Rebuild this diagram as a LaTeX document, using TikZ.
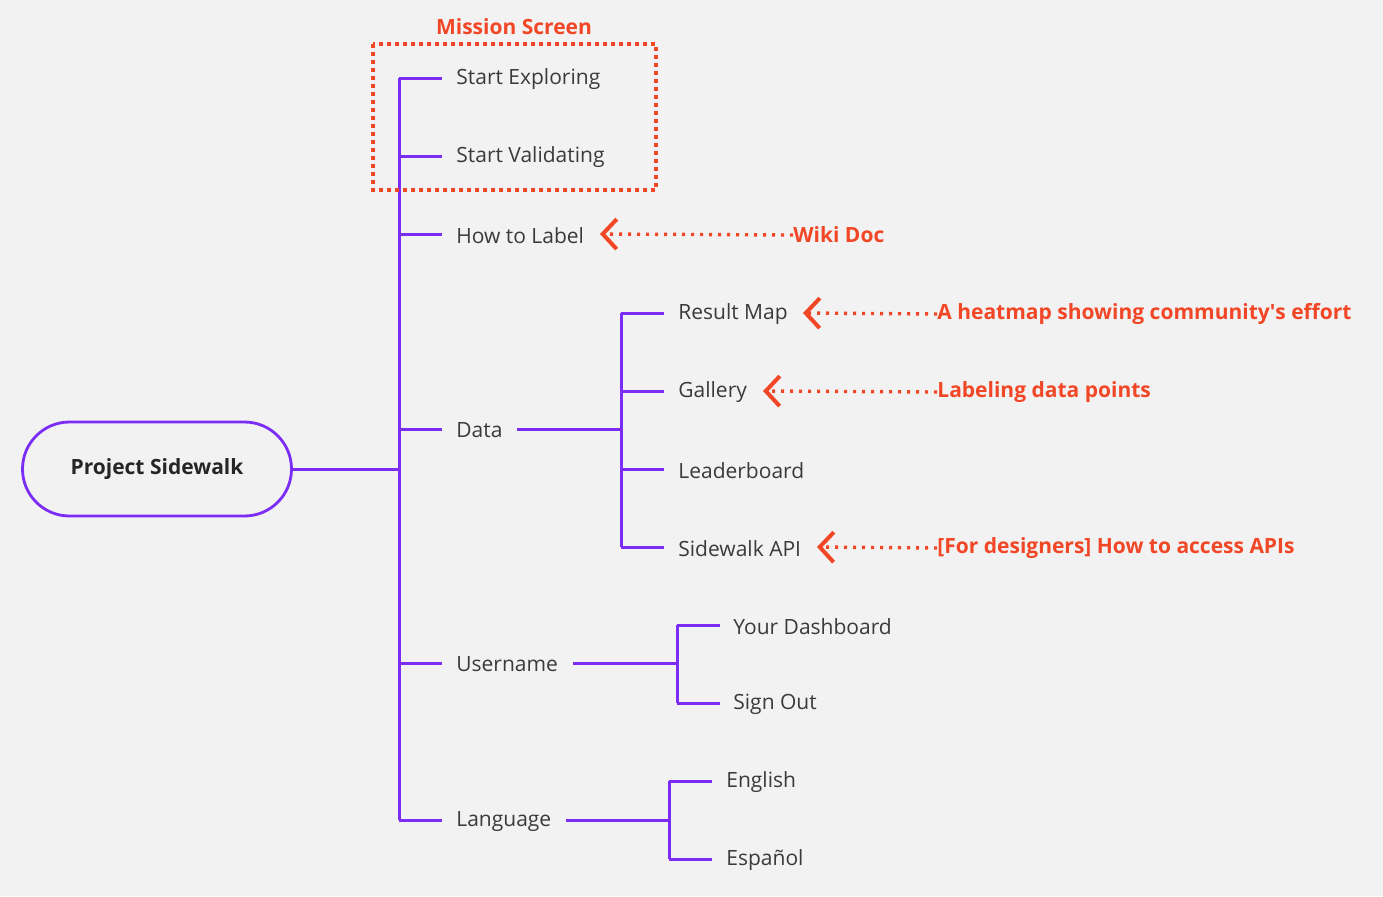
\documentclass[tikz,border=0pt]{standalone}
\usepackage{fontspec}
\setmainfont{Open Sans}
\usetikzlibrary{arrows.meta,positioning}
\definecolor{bgGray}{HTML}{F2F2F2}
\definecolor{mapPurple}{HTML}{7B2CF5}
\definecolor{noteRed}{HTML}{F24726}
\definecolor{textDark}{HTML}{3A3A3A}
\tikzset{
  item/.style={anchor=west,inner sep=0pt,text=textDark,font=\fontsize{10.5pt}{12pt}\selectfont},
  note/.style={anchor=west,inner sep=0pt,text=noteRed,font=\bfseries\fontsize{10.5pt}{12pt}\selectfont},
  link/.style={mapPurple,line width=1.5pt},
  pointer/.style={noteRed,line width=1.7pt,dash pattern=on 1.5pt off 3pt,
    -{Straight Barb[length=7pt,width=15pt,line width=2pt]}}
}
\begin{document}
\begin{tikzpicture}[x=0.5pt,y=-0.5pt]
\fill[bgGray] (0,0) rectangle (1383,896);
% root
\node[draw=mapPurple,line width=1.4pt,rounded corners=23.5pt,minimum width=134.5pt,minimum height=47pt,
  font=\bfseries\fontsize{10.5pt}{12pt}\selectfont,text=black!85] (root) at (157,469) {Project Sidewalk};
\coordinate (trunk) at (399,469);
\draw[link] (root.east) -- (trunk);
\draw[link] (399,78) -- (399,820);
% first level
\foreach \nm/\y/\txt in {explore/78/Start Exploring, validate/156/Start Validating,
  howto/234/How to Label, data/429/Data, user/663/Username, lang/820/Language}{
  \coordinate (\nm-b) at (399,\y);
  \node[item] (\nm) at (456,\y+1.5) {\txt};
  \draw[link] (\nm-b) -- (442,\y);
}
% data
\coordinate (data-j) at (621,429);
\draw[link] (517,429) -- (data-j);
\draw[link] (621,313) -- (621,547);
\foreach \nm/\y/\txt in {resmap/313/Result Map, gallery/391/Gallery, leader/469/Leaderboard, api/547/Sidewalk API}{
  \node[item] (\nm) at (678,\y+1.5) {\txt};
  \draw[link] (621,\y) -- (664,\y);
}
% username
\coordinate (user-j) at (677,663);
\draw[link] (573,663) -- (user-j);
\draw[link] (677,625) -- (677,703);
\foreach \nm/\y/\txt in {dash/625/Your Dashboard, signout/703/Sign Out}{
  \node[item] (\nm) at (733,\y+1.5) {\txt};
  \draw[link] (677,\y) -- (720,\y);
}
% language
\coordinate (lang-j) at (669,820);
\draw[link] (566,820) -- (lang-j);
\draw[link] (669,781) -- (669,859);
\foreach \nm/\y/\txt in {english/781/English, espanol/859/Español}{
  \node[item] (\nm) at (726,\y+1.5) {\txt};
  \draw[link] (669,\y) -- (712,\y);
}
% mission screen box
\draw[noteRed,line width=2.2pt,dash pattern=on 2pt off 2pt] (373,44) rectangle (656,190);
\node[note,anchor=center] (mission) at (514,27) {Mission Screen};
% notes
\node[note] (wiki) at (793,235) {Wiki Doc};
\node[note] (heat) at (937,314) {A heatmap showing community\textquotesingle s effort};
\node[note] (points) at (937,392) {Labeling data points};
\node[note] (apis) at (937,548) {[For designers] How to access APIs};
\draw[pointer] (wiki.west) -- (600,234);
\draw[pointer] (heat.west) -- (803,313);
\draw[pointer] (points.west) -- (763,391);
\draw[pointer] (apis.west) -- (817,547);
\end{tikzpicture}
\end{document}
